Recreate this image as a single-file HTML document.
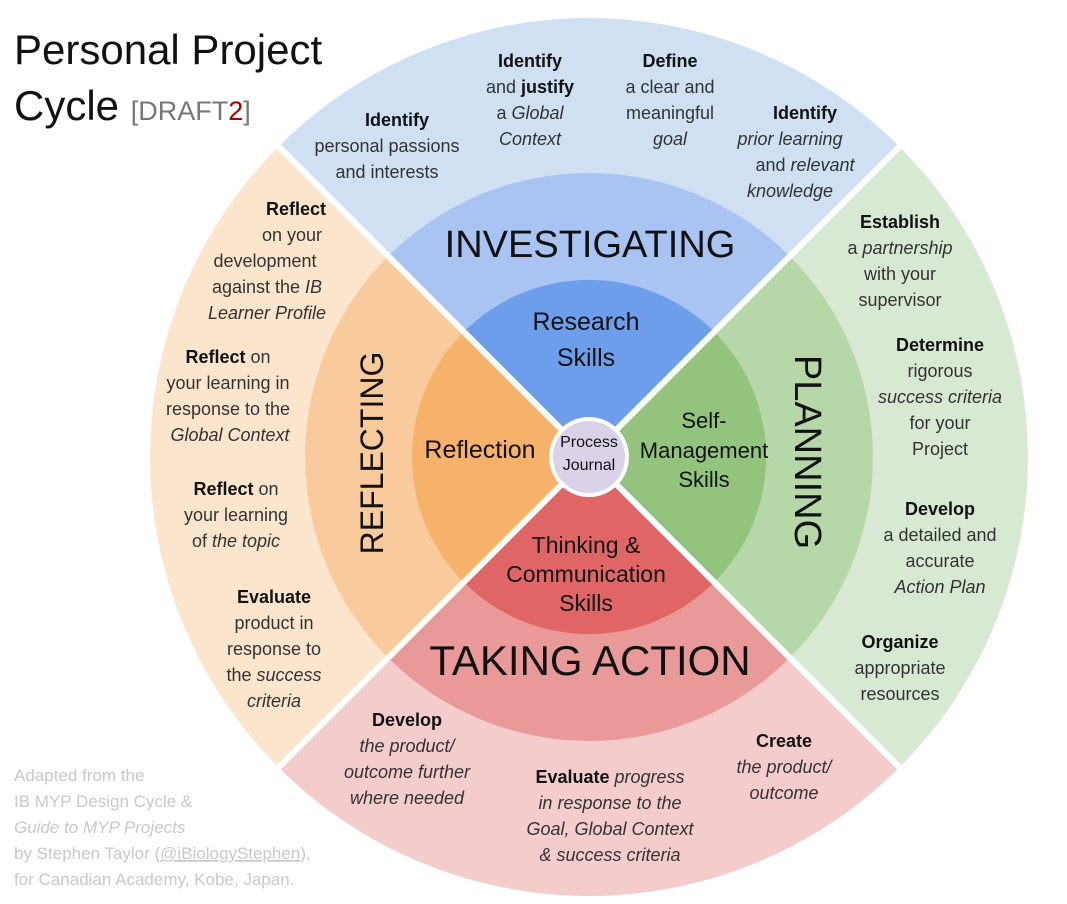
<!DOCTYPE html>
<html><head><meta charset="utf-8"><style>
html,body{margin:0;padding:0;background:#fff;}
svg{display:block;font-family:"Liberation Sans",sans-serif;}
.b{font-size:18px;fill:#333;text-anchor:middle;font-weight:300}
.k{font-weight:bold;fill:#111}
.i{font-style:italic}
.h{font-size:42px;fill:#111;text-anchor:middle}
.m{font-size:25px;fill:#111;text-anchor:middle}
.f{font-size:17px;fill:#c8c8c8}
</style></head><body>
<svg width="1067" height="904" viewBox="0 0 1067 904">
<path d="M589,457 L278.6,146.6 A439,439 0 0 1 899.4,146.6Z" fill="#cfe0f3"/>
<path d="M589,457 L899.4,146.6 A439,439 0 0 1 899.4,767.4Z" fill="#d8e9d3"/>
<path d="M589,457 L899.4,767.4 A439,439 0 0 1 278.6,767.4Z" fill="#f4cccc"/>
<path d="M589,457 L278.6,767.4 A439,439 0 0 1 278.6,146.6Z" fill="#fce5cd"/>
<path d="M589,457 L388.2,256.2 A284,284 0 0 1 789.8,256.2Z" fill="#a9c4f2"/>
<path d="M589,457 L789.8,256.2 A284,284 0 0 1 789.8,657.8Z" fill="#b6d7a8"/>
<path d="M589,457 L789.8,657.8 A284,284 0 0 1 388.2,657.8Z" fill="#ea9999"/>
<path d="M589,457 L388.2,657.8 A284,284 0 0 1 388.2,256.2Z" fill="#f9cb9c"/>
<path d="M589,457 L463.8,331.8 A177,177 0 0 1 714.2,331.8Z" fill="#6d9eeb"/>
<path d="M589,457 L714.2,331.8 A177,177 0 0 1 714.2,582.2Z" fill="#93c47d"/>
<path d="M589,457 L714.2,582.2 A177,177 0 0 1 463.8,582.2Z" fill="#e06666"/>
<path d="M589,457 L463.8,582.2 A177,177 0 0 1 463.8,331.8Z" fill="#f6b26b"/>
<line x1="275" y1="143" x2="903" y2="771" stroke="#fff" stroke-width="6"/>
<line x1="903" y1="143" x2="275" y2="771" stroke="#fff" stroke-width="6"/>
<circle cx="589" cy="457" r="38" fill="#d9d2e9" stroke="#fff" stroke-width="4"/>
<text class="b" x="589" y="447" style="font-size:16px;fill:#111">Process</text>
<text class="b" x="589" y="470" style="font-size:16px;fill:#111">Journal</text>

<text x="14" y="64" style="font-size:42px;fill:#111">Personal Project</text>
<text x="14" y="120" style="font-size:42px;fill:#111">Cycle <tspan style="font-size:27px;fill:#777">[DRAFT<tspan fill="#a00">2</tspan>]</tspan></text>

<text class="h" x="590" y="257" style="font-size:38px">INVESTIGATING</text>
<text class="h" x="590" y="675">TAKING ACTION</text>
<text class="h" transform="translate(795,452) rotate(90)" style="font-size:38px">PLANNING</text>
<text class="h" transform="translate(383,453) rotate(-90)" style="font-size:32px">REFLECTING</text>
<text class="m" x="586" y="330">Research</text>
<text class="m" x="586" y="366">Skills</text>
<text class="m" x="480" y="458">Reflection</text>
<text class="m" x="704" y="428" style="font-size:22px">Self-</text>
<text class="m" x="704" y="458" style="font-size:22px">Management</text>
<text class="m" x="704" y="487" style="font-size:22px">Skills</text>
<text class="m" x="586" y="553" style="font-size:23px">Thinking &amp;</text>
<text class="m" x="586" y="582" style="font-size:23px">Communication</text>
<text class="m" x="586" y="611" style="font-size:23px">Skills</text>

<text class="b" x="397" y="126"><tspan class="k">Identify</tspan></text>
<text class="b" x="387" y="152">personal passions</text>
<text class="b" x="387" y="178">and interests</text>
<text class="b" x="530" y="67"><tspan class="k">Identify</tspan></text>
<text class="b" x="530" y="93">and <tspan class="k">justify</tspan></text>
<text class="b" x="530" y="119">a <tspan class="i">Global</tspan></text>
<text class="b i" x="530" y="145">Context</text>
<text class="b" x="670" y="67"><tspan class="k">Define</tspan></text>
<text class="b" x="670" y="93">a clear and</text>
<text class="b" x="670" y="119">meaningful</text>
<text class="b i" x="670" y="145">goal</text>
<text class="b" x="805" y="119"><tspan class="k">Identify</tspan></text>
<text class="b i" x="790" y="145">prior learning</text>
<text class="b" x="805" y="171">and <tspan class="i">relevant</tspan></text>
<text class="b i" x="790" y="197">knowledge</text>

<text class="b k" x="900" y="228">Establish</text>
<text class="b" x="900" y="254">a <tspan class="i">partnership</tspan></text>
<text class="b" x="900" y="280">with your</text>
<text class="b" x="900" y="306">supervisor</text>
<text class="b k" x="940" y="351">Determine</text>
<text class="b" x="940" y="377">rigorous</text>
<text class="b i" x="940" y="403">success criteria</text>
<text class="b" x="940" y="429">for your</text>
<text class="b" x="940" y="455">Project</text>
<text class="b k" x="940" y="515">Develop</text>
<text class="b" x="940" y="541">a detailed and</text>
<text class="b" x="940" y="567">accurate</text>
<text class="b i" x="940" y="593">Action Plan</text>
<text class="b k" x="900" y="648">Organize</text>
<text class="b" x="900" y="674">appropriate</text>
<text class="b" x="900" y="700">resources</text>

<text class="b k" x="407" y="726">Develop</text>
<text class="b i" x="407" y="752">the product/</text>
<text class="b i" x="407" y="778">outcome further</text>
<text class="b i" x="407" y="804">where needed</text>
<text class="b" x="610" y="783"><tspan class="k">Evaluate</tspan> <tspan class="i">progress</tspan></text>
<text class="b i" x="610" y="809">in response to the</text>
<text class="b i" x="610" y="835">Goal, Global Context</text>
<text class="b i" x="610" y="861">&amp; success criteria</text>
<text class="b k" x="784" y="747">Create</text>
<text class="b i" x="784" y="773">the product/</text>
<text class="b i" x="784" y="799">outcome</text>

<text class="b k" x="296" y="215">Reflect</text>
<text class="b" x="292" y="241">on your</text>
<text class="b" x="265" y="267">development</text>
<text class="b" x="267" y="293">against the <tspan class="i">IB</tspan></text>
<text class="b i" x="267" y="319">Learner Profile</text>
<text class="b" x="228" y="363"><tspan class="k">Reflect</tspan> on</text>
<text class="b" x="228" y="389">your learning in</text>
<text class="b" x="228" y="415">response to the</text>
<text class="b i" x="230" y="441">Global Context</text>
<text class="b" x="236" y="495"><tspan class="k">Reflect</tspan> on</text>
<text class="b" x="236" y="521">your learning</text>
<text class="b" x="236" y="547">of <tspan class="i">the topic</tspan></text>
<text class="b k" x="274" y="603">Evaluate</text>
<text class="b" x="274" y="629">product in</text>
<text class="b" x="274" y="655">response to</text>
<text class="b" x="274" y="681">the <tspan class="i">success</tspan></text>
<text class="b i" x="274" y="707">criteria</text>

<text class="f" x="14" y="781">Adapted from the</text>
<text class="f" x="14" y="807">IB MYP Design Cycle &amp;</text>
<text class="f i" x="14" y="833">Guide to MYP Projects</text>
<text class="f" x="14" y="859">by Stephen Taylor (<tspan text-decoration="underline">@iBiologyStephen</tspan>),</text>
<text class="f" x="14" y="885">for Canadian Academy, Kobe, Japan.</text>
</svg>
</body></html>
